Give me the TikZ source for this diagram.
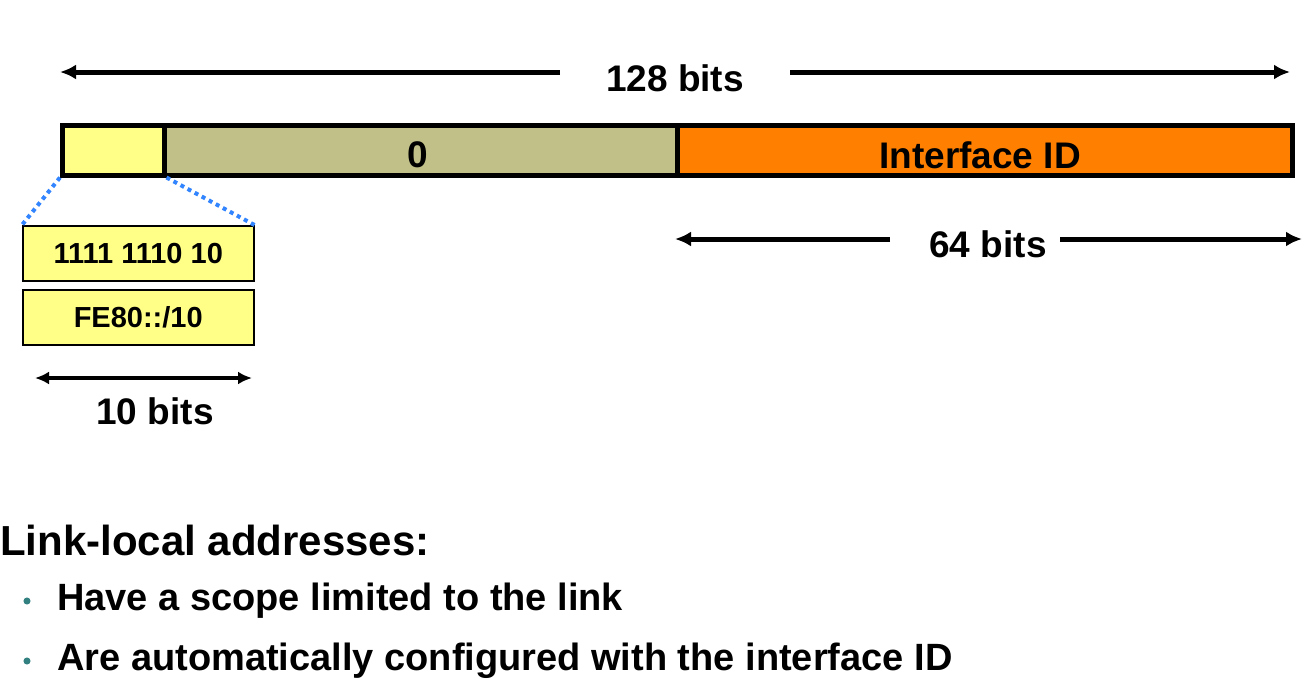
\documentclass[tikz,border=0pt]{standalone}
\usepackage{fontspec}
\setmainfont{Liberation Sans}
\begin{document}
\begin{tikzpicture}[x=1pt,y=-1pt,
  arr/.style={line width=5pt,-{Latex[length=16pt,width=15pt]}},
  lbl/.style={font=\bfseries\fontsize{37}{42}\selectfont,inner sep=0},
  seg/.style={draw=black,line width=4.5pt},
  smallbox/.style={draw=black,line width=1.5pt,minimum width=231pt,minimum height=55pt,font=\bfseries\fontsize{29}{33}\selectfont},
  dotl/.style={draw=blue!60!cyan!80!white,line width=4pt,dash pattern=on 4pt off 4pt}]
\usetikzlibrary{arrows.meta}
\useasboundingbox (0,0) rectangle (1307,689);
\definecolor{olive}{HTML}{C0C088}
\definecolor{org}{HTML}{FF8000}
\definecolor{ylw}{HTML}{FFFF88}
% top arrow
\node[lbl] (t128) at (675,78) {128 bits};
\coordinate (a1) at (560,72); \coordinate (a1e) at (60,72);
\coordinate (a2) at (790,72); \coordinate (a2e) at (1290,72);
\draw[arr] (a1) -- (a1e);
\draw[arr] (a2) -- (a2e);
% bar
\node[seg,fill=ylw,minimum width=102pt,minimum height=50pt,anchor=north west,inner sep=0] (p1) at (60,123) {};
\node[seg,fill=olive,minimum width=513pt,minimum height=50pt,anchor=north west,inner sep=0] (p2) at (162,123) {};
\node[seg,fill=org,minimum width=615pt,minimum height=50pt,anchor=north west,inner sep=0] (p3) at (675,123) {};
\node[lbl] (zero) at (418,155) {0};
\node[lbl] (iid) at (980,155) {Interface ID};
% small boxes
\node[smallbox,fill=ylw,anchor=north west] (b1) at (22,225) {1111 1110 10};
\node[smallbox,fill=ylw,anchor=north west] (b2) at (22,289) {FE80::/10};
\draw[dotl] (p1.south west) -- (b1.north west);
\draw[dotl] (p1.south east) -- (b1.north east);
% 10 bits
\coordinate (c1) at (35,378); \coordinate (c2) at (252,378);
\draw[line width=3.5pt,{Latex[length=14pt,width=13pt]}-{Latex[length=14pt,width=13pt]}] (c1) -- (c2);
\node[lbl] (t10) at (155,411) {10 bits};
% 64 bits
\node[lbl] (t64) at (988,244) {64 bits};
\coordinate (d1) at (890,239); \coordinate (d1e) at (675,239);
\coordinate (d2) at (1060,239); \coordinate (d2e) at (1302,239);
\draw[arr] (d1) -- (d1e);
\draw[arr] (d2) -- (d2e);
% text
\node[anchor=west,inner sep=0,font=\bfseries\fontsize{42}{48}\selectfont] (h) at (0,540) {Link-local addresses:};
\node[anchor=west,inner sep=0,font=\bfseries\fontsize{38}{44}\selectfont] (l1) at (57,601) {Have a scope limited to the link};
\node[anchor=west,inner sep=0,font=\bfseries\fontsize{38}{44}\selectfont] (l2) at (57,661) {Are automatically configured with the interface ID};
\node[circle,fill=teal!60!gray,inner sep=2.5pt] (bu1) at (27,601) {};
\node[circle,fill=teal!60!gray,inner sep=2.5pt] (bu2) at (27,661) {};
\end{tikzpicture}
\end{document}
